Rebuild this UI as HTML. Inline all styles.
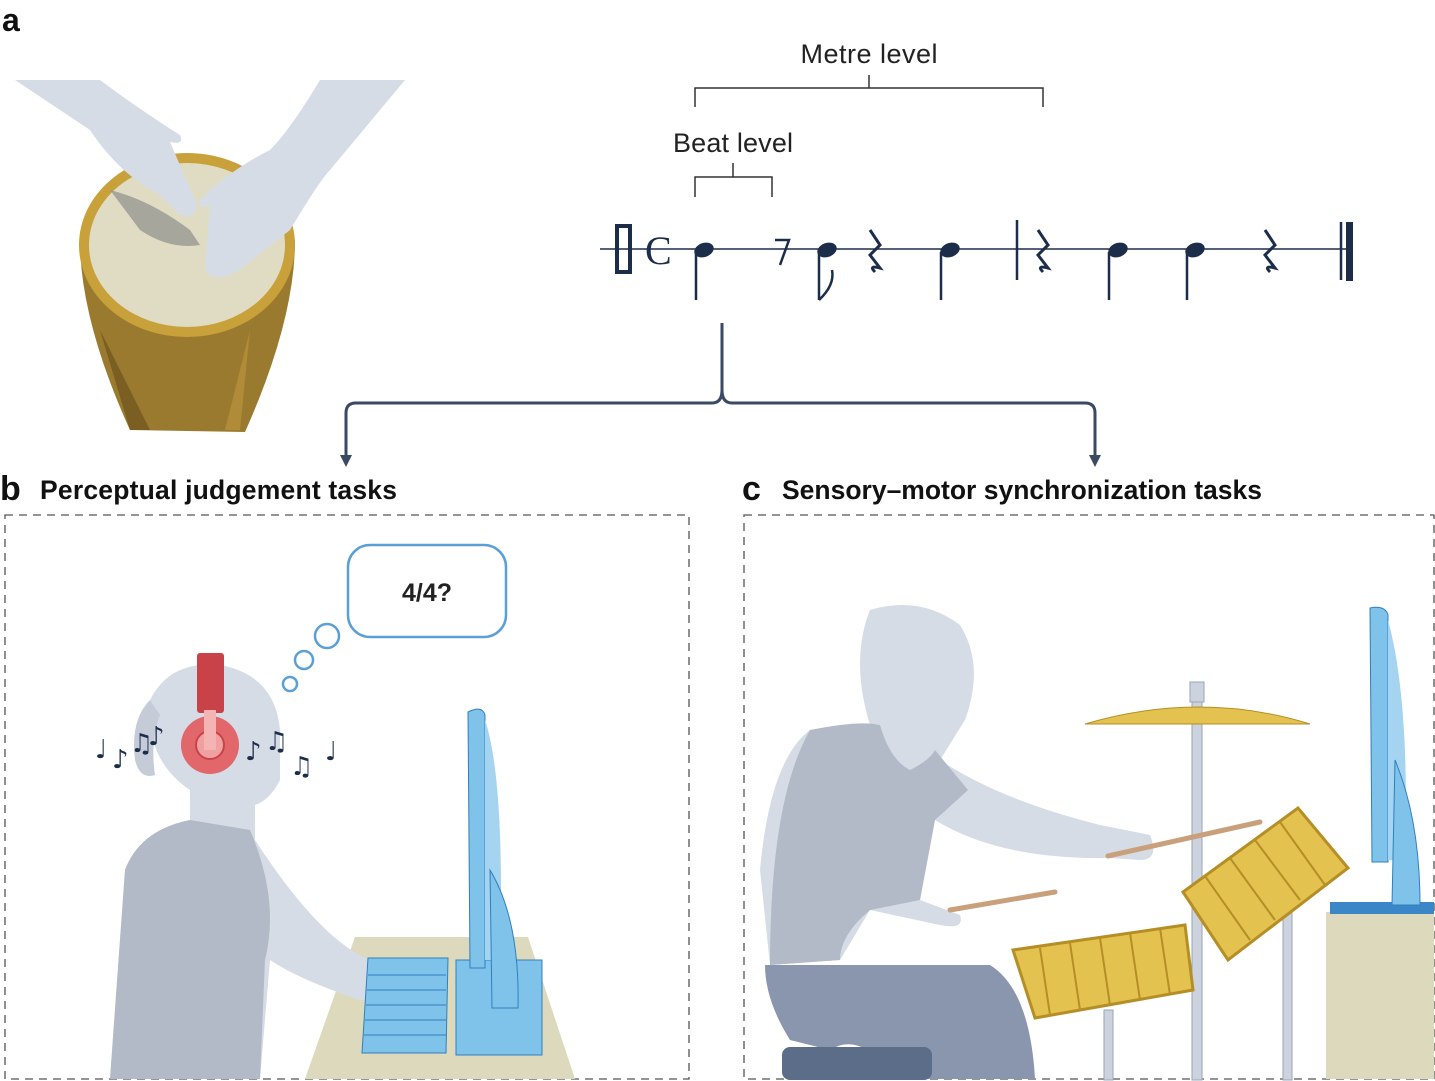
<!DOCTYPE html>
<html><head><meta charset="utf-8"><style>
html,body{margin:0;padding:0;background:#fff;}
svg{display:block;font-family:"Liberation Sans",sans-serif;}
</style></head><body>
<svg width="1435" height="1081" viewBox="0 0 1435 1081" xmlns="http://www.w3.org/2000/svg">
<!-- labels -->
<text x="2" y="31" font-size="32" font-weight="bold" fill="#111">a</text>
<text x="0" y="500" font-size="34" font-weight="bold" fill="#111">b</text>
<text x="40" y="499" font-size="26.5" font-weight="bold" fill="#111" textLength="357">Perceptual judgement tasks</text>
<text x="742" y="500" font-size="34" font-weight="bold" fill="#111">c</text>
<text x="782" y="499" font-size="26.5" font-weight="bold" fill="#111" textLength="480">Sensory–motor synchronization tasks</text>

<!-- drum -->
<path d="M80 240 Q80 320 130 430 L245 432 Q295 320 295 240 Z" fill="#9a7a2e"/>
<path d="M100 330 L150 430 L130 430 Z" fill="#7a5e22"/>
<path d="M250 330 L240 430 L225 430 Z" fill="#b08c38"/>
<ellipse cx="187" cy="245" rx="108" ry="92" fill="#c9a13a"/>
<ellipse cx="187" cy="245" rx="98" ry="82" fill="#e0dcc3"/>
<!-- hands -->
<path d="M15 80 L100 80 Q140 110 180 135 Q185 145 170 142 L195 200 Q200 220 180 215 L160 195 Q120 175 90 130 Z" fill="#d5dce6"/>
<path d="M405 80 L320 80 Q290 130 270 150 Q230 170 200 200 Q195 210 210 205 L205 270 Q215 285 240 270 L290 230 Q320 180 330 170 Z" fill="#d5dce6"/>
<path d="M110 190 Q150 200 190 230 L200 245 Q170 250 140 230 Z" fill="#8e8f8b" opacity="0.7"/>

<!-- metre brackets -->
<g stroke="#333" stroke-width="1.5" fill="none">
<path d="M695 107 V88 H1043 V107 M869 88 V75"/>
<path d="M695 197 V177 H772 V197 M733 177 V163"/>
</g>
<text x="869" y="63" font-size="27" fill="#222" text-anchor="middle" textLength="137">Metre level</text>
<text x="733" y="152" font-size="27" fill="#222" text-anchor="middle" textLength="120">Beat level</text>

<!-- staff -->
<g fill="#1c2d4a" stroke="#1c2d4a">
<line x1="600" y1="249" x2="1352" y2="249" stroke-width="1.5"/>
<rect x="617" y="226" width="13" height="46" fill="none" stroke-width="4"/>
<text x="645" y="264" font-size="40" stroke="none" font-family="Liberation Serif,serif">C</text>
<g stroke="none">
<ellipse cx="704" cy="250" rx="10" ry="7" transform="rotate(-20 704 250)"/>
<ellipse cx="827" cy="250" rx="10" ry="7" transform="rotate(-20 827 250)"/>
<ellipse cx="950" cy="250" rx="10" ry="7" transform="rotate(-20 950 250)"/>
<ellipse cx="1118" cy="250" rx="10" ry="7" transform="rotate(-20 1118 250)"/>
<ellipse cx="1195" cy="250" rx="10" ry="7" transform="rotate(-20 1195 250)"/>
</g>
<g stroke-width="2.5">
<line x1="696" y1="252" x2="696" y2="300"/>
<line x1="819" y1="252" x2="819" y2="300"/>
<line x1="941" y1="252" x2="941" y2="300"/>
<line x1="1109" y1="252" x2="1109" y2="300"/>
<line x1="1187" y1="252" x2="1187" y2="300"/>
<line x1="1017" y1="220" x2="1017" y2="280"/>
<line x1="1341" y1="222" x2="1341" y2="280"/>
</g>
<rect x="1346" y="222" width="7" height="59" stroke="none"/>
<path d="M819 300 Q835 285 832 270" fill="none" stroke-width="2.5"/>
<path d="M775 240 H789 L780 265" fill="none" stroke-width="2.5"/>
<path d="M870 230 L880 245 L870 255 L880 268 Q868 265 875 272" fill="none" stroke-width="3"/>
<path d="M1038 230 L1048 245 L1038 255 L1048 268 Q1036 265 1043 272" fill="none" stroke-width="3"/>
<path d="M1265 230 L1275 245 L1265 255 L1275 268 Q1263 265 1270 272" fill="none" stroke-width="3"/>
</g>

<!-- connector -->
<g stroke="#3b4a63" stroke-width="3" fill="none">
<path d="M722 323 V390 Q722 403 712 403 H356 Q346 403 346 413 V458"/>
<path d="M722 390 Q722 403 732 403 H1085 Q1095 403 1095 413 V458"/>
</g>
<path d="M340 455 L346 467 L352 455 Z M1089 455 L1095 467 L1101 455 Z" fill="#3b4a63"/>

<!-- dashed boxes -->
<g stroke="#555" stroke-width="1.3" fill="none" stroke-dasharray="8 6">
<rect x="5" y="515" width="684" height="564"/>
<rect x="744" y="515" width="690" height="564"/>
</g>

<!-- panel b -->
<rect x="348" y="545" width="158" height="92" rx="22" fill="#fff" stroke="#5a9fd6" stroke-width="2.5"/>
<text x="427" y="601" font-size="25" font-weight="bold" text-anchor="middle" fill="#222">4/4?</text>
<g fill="#fff" stroke="#5a9fd6" stroke-width="2.5">
<circle cx="327" cy="636" r="12"/><circle cx="304" cy="660" r="9"/><circle cx="290" cy="684" r="7"/>
</g>
<path d="M355 937 H528 L575 1079 H305 Z" fill="#dcd9bd"/>
<!-- girl -->
<path d="M150 700 Q170 660 220 665 Q275 675 280 730 L280 780 Q270 800 255 805 L255 840 Q320 940 370 960 L430 965 L420 1000 L360 1000 Q300 980 270 960 L260 1079 H110 L125 870 Q140 830 190 820 L190 790 Q145 760 150 700 Z" fill="#d5dce6"/>
<path d="M125 870 Q140 830 190 820 L250 830 Q280 900 265 960 L260 1079 H110 Z" fill="#b2bac7"/>
<path d="M150 700 Q130 720 135 760 Q140 780 155 775 Q150 740 160 715 Z" fill="#c5ccd8"/>
<path d="M368 958 H448 L446 1053 H362 Z" fill="#7fc3ea" stroke="#2f7fbf"/>
<g stroke="#2f7fbf" stroke-width="1"><path d="M368 975 H446 M367 990 H446 M366 1005 H446 M365 1020 H446 M364 1035 H446"/></g>
<rect x="197" y="653" width="27" height="60" rx="3" fill="#c9424a"/>
<circle cx="210" cy="745" r="29" fill="#e2676b"/>
<circle cx="210" cy="745" r="14" fill="#f0a0a0" stroke="#c9424a" stroke-width="2"/>
<rect x="204" y="710" width="12" height="40" fill="#f4b4b4"/>
<g fill="#1c2d4a" font-size="26" font-family="DejaVu Sans,sans-serif">
<text x="95" y="758">♩</text><text x="112" y="768">♪</text><text x="130" y="752">♫</text><text x="148" y="745">♪</text>
<text x="245" y="760">♪</text><text x="265" y="750">♫</text><text x="290" y="775">♫</text><text x="325" y="760">♩</text>
</g>
<!-- monitor b -->
<rect x="456" y="960" width="86" height="95" fill="#7fc3ea" stroke="#2f7fbf"/>
<path d="M468 712 Q482 705 485 715 L485 968 L470 968 Z" fill="#7fc3ea" stroke="#2f7fbf"/>
<path d="M485 720 Q505 780 500 960 L485 960 Z" fill="#a4d4f0"/>
<path d="M490 870 Q520 920 518 1008 L492 1008 Z" fill="#7fc3ea" stroke="#2f7fbf"/>

<!-- panel c -->
<path d="M1326 912 H1434 V1079 H1326 Z" fill="#dcd9bd"/>
<rect x="1330" y="902" width="104" height="12" fill="#3a86c6"/>
<path d="M1370 608 Q1385 605 1388 615 L1388 862 L1372 862 Z" fill="#7fc3ea" stroke="#2f7fbf"/>
<path d="M1388 620 Q1410 700 1405 860 L1388 860 Z" fill="#a4d4f0"/>
<path d="M1395 760 Q1420 820 1420 905 L1392 905 Z" fill="#7fc3ea" stroke="#2f7fbf"/>
<!-- drummer -->
<path d="M870 610 Q920 595 960 625 Q985 665 965 720 L940 760 Q1000 800 1100 825 L1150 835 Q1160 860 1140 860 L1110 858 Q1000 860 935 820 L920 900 L960 915 Q965 930 940 925 L870 910 L840 960 L770 965 L760 870 Q770 760 810 730 L870 725 Q850 660 870 610 Z" fill="#d5dce6"/>
<path d="M770 965 Q770 800 810 730 Q860 720 880 725 Q890 760 910 770 Q930 760 935 750 L968 790 L935 820 L920 900 L870 910 Q840 935 840 960 Z" fill="#b2bac7"/>
<path d="M765 965 H990 Q1030 990 1035 1079 H900 Q860 1030 830 1050 L790 1040 Q765 1000 765 965 Z" fill="#8a96ad"/>
<rect x="782" y="1047" width="150" height="33" rx="8" fill="#5c6d8a"/>
<!-- cymbal -->
<rect x="1192" y="700" width="10" height="380" fill="#ccd3de" stroke="#9aa4b4"/>
<path d="M1085 724 Q1200 690 1310 724 Z" fill="#e4c24f" stroke="#b58e26"/>
<rect x="1190" y="682" width="14" height="20" fill="#ccd3de" stroke="#9aa4b4"/>
<rect x="1104" y="1010" width="9" height="70" fill="#ccd3de" stroke="#9aa4b4"/>
<rect x="1283" y="910" width="9" height="170" fill="#ccd3de" stroke="#9aa4b4"/>
<!-- drums -->
<path d="M1013 950 L1185 925 L1193 990 L1035 1018 Z" fill="#e4c24f" stroke="#b58e26" stroke-width="3"/>
<g stroke="#b58e26" stroke-width="2"><path d="M1040 948 L1050 1015 M1070 943 L1080 1010 M1100 938 L1110 1005 M1130 933 L1140 1000 M1160 928 L1170 995"/></g>
<path d="M1183 892 L1298 808 L1348 868 L1228 960 Z" fill="#e4c24f" stroke="#b58e26" stroke-width="3"/>
<g stroke="#b58e26" stroke-width="2"><path d="M1205 876 L1250 940 M1230 858 L1275 920 M1255 840 L1300 900 M1280 822 L1325 885"/></g>
<g stroke="#c8a07c" stroke-width="5" stroke-linecap="round">
<line x1="1108" y1="856" x2="1260" y2="822"/>
<line x1="950" y1="910" x2="1055" y2="892"/>
</g>
</svg>
</body></html>
